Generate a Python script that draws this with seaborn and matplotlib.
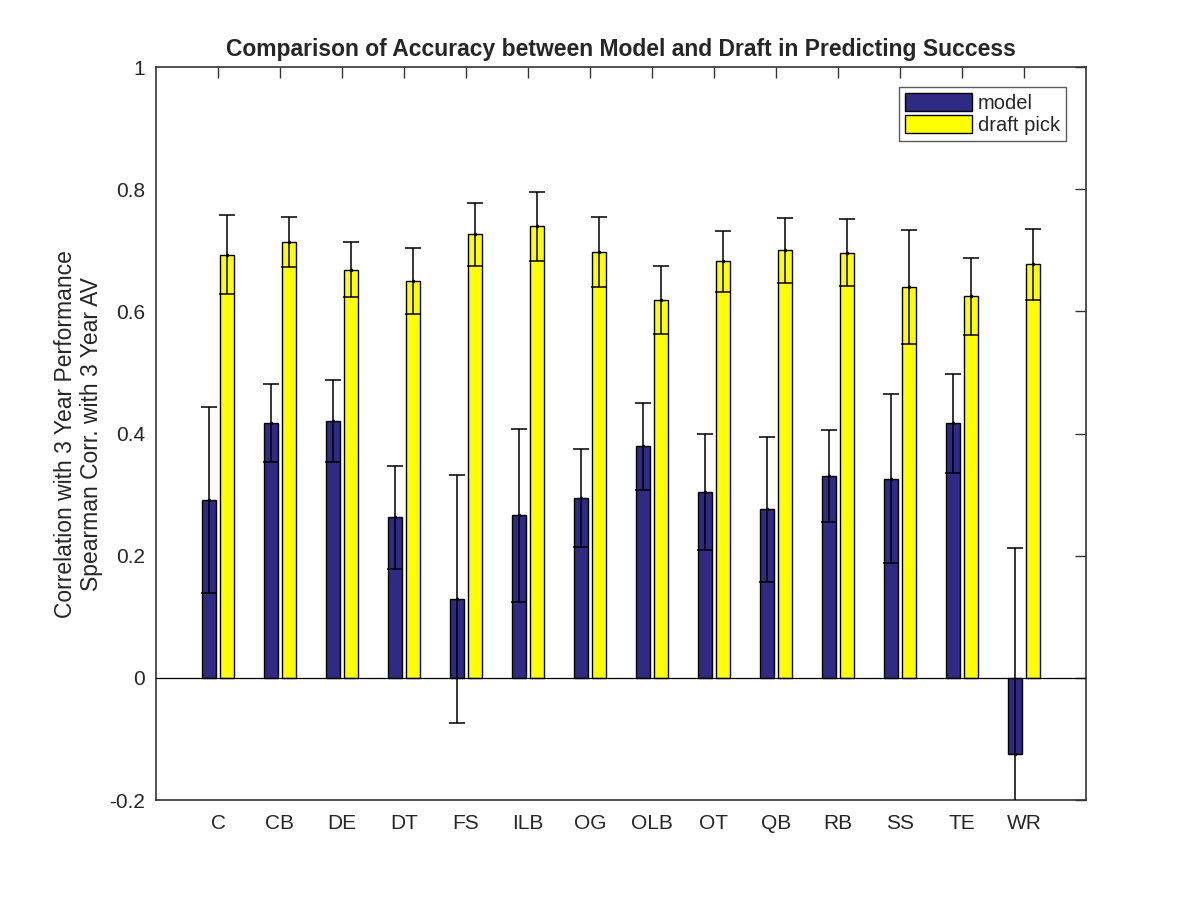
import numpy as np
import pandas as pd
import seaborn as sns
import matplotlib.pyplot as plt

# positions and values
positions = ["C", "CB", "DE", "DT", "FS", "ILB", "OG", "OLB", "OT", "QB", "RB", "SS", "TE", "WR"]
model_corr = [0.291, 0.417, 0.421, 0.263, 0.130, 0.266, 0.294, 0.379, 0.304, 0.276, 0.331, 0.326, 0.417, -0.124]
model_err = [0.152, 0.064, 0.067, 0.084, 0.203, 0.142, 0.080, 0.071, 0.095, 0.119, 0.075, 0.138, 0.081, 0.337]
draft_corr = [0.693, 0.714, 0.668, 0.650, 0.726, 0.739, 0.697, 0.619, 0.682, 0.700, 0.696, 0.640, 0.625, 0.677]
draft_err = [0.065, 0.041, 0.045, 0.054, 0.052, 0.057, 0.057, 0.056, 0.050, 0.053, 0.055, 0.093, 0.063, 0.058]
series = ["model", "draft pick"]
colors = ["#2f2a83", "#ffff00"]

df = pd.DataFrame({
    "pos": positions * 2,
    "corr": model_corr + draft_corr,
    "err": model_err + draft_err,
    "series": [series[0]] * len(positions) + [series[1]] * len(positions),
})

sns.set_style("white")
plt.rcParams["font.family"] = ["Liberation Sans", "DejaVu Sans"]

fig = plt.figure(figsize=(12, 9), dpi=100)
ax = fig.add_axes([0.13, 0.111, 0.775, 0.8145])

sns.barplot(data=df, x="pos", y="corr", hue="series", palette=colors,
            saturation=1, width=0.58, gap=0.17, edgecolor="black",
            linewidth=1.0, errorbar=None, ax=ax, legend=True)

# error bars placed at the bar centres
for patch_group, name in zip(ax.containers, series):
    sub = df[df["series"] == name]
    xs = [p.get_x() + p.get_width() / 2 for p in patch_group]
    ax.errorbar(xs, sub["corr"].values, yerr=sub["err"].values, fmt=".",
                ms=3, color="black", ecolor="black", elinewidth=1.1,
                capsize=5.8, capthick=1.1, zorder=5)

ax.axhline(0, color="black", linewidth=0.9, zorder=4)

ax.set_xlim(-1, 14)
ax.set_ylim(-0.2, 1.0)
ax.set_yticks(np.arange(-0.2, 1.01, 0.2))
ax.set_yticklabels(["-0.2", "0", "0.2", "0.4", "0.6", "0.8", "1"])
ax.tick_params(axis="both", direction="in", length=8, width=1, color="#333333",
               labelsize=15, labelcolor="#262626", top=True, right=True)
ax.tick_params(axis="y", pad=8)
ax.tick_params(axis="x", pad=10)
for s in ax.spines.values():
    s.set_color("#333333")
    s.set_linewidth(1.2)

ax.set_xlabel("")
ax.set_ylabel("Correlation with 3 Year Performance\nSpearman Corr. with 3 Year AV",
              fontsize=16.5, color="#262626", labelpad=4)
ax.set_title("Comparison of Accuracy between Model and Draft in Predicting Success",
             fontsize=16.5, fontweight="bold", pad=8)

leg = ax.legend(loc="upper right", bbox_to_anchor=(0.9785, 0.973), fontsize=14.5,
                frameon=True, fancybox=False, edgecolor="#333333",
                handlelength=3.3, handleheight=1.0, borderpad=0.3,
                labelspacing=0.1, handletextpad=0.3, borderaxespad=0)
leg.get_frame().set_linewidth(1.0)

fig.savefig("out.png", dpi=100, facecolor="white")
